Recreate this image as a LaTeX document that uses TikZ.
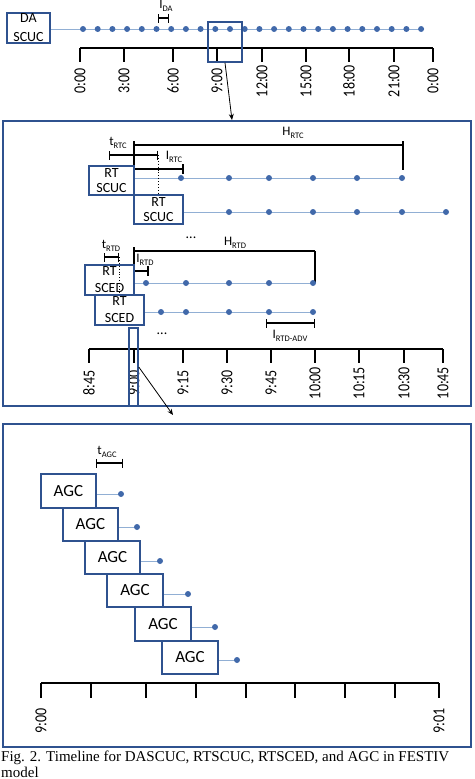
\documentclass[tikz,border=0pt]{standalone}
\usepackage{fontspec}
\usepackage{graphicx}
\setmainfont{Carlito}
\newfontfamily\capfont{Liberation Serif}
\usetikzlibrary{arrows.meta}
\definecolor{boxblue}{RGB}{47,82,143}
\definecolor{dotblue}{RGB}{65,105,170}
\definecolor{lineblue}{RGB}{145,175,212}
\pgfdeclarelayer{bg}
\pgfsetlayers{bg,main}
\newcommand\mylab[2]{{\fontsize{13}{13}\selectfont #1\raisebox{-2.5pt}{\fontsize{8.5}{8.5}\selectfont #2}}}
\newcommand\tlab[1]{\scalebox{1}[1.2]{#1}}
\begin{document}
\begin{tikzpicture}[x=1pt,y=-1pt,
  frame/.style={draw=boxblue, line width=2pt, inner sep=0pt},
  hl/.style={draw=boxblue, line width=1.5pt, inner sep=0pt},
  pbox/.style={draw=boxblue, line width=1.6pt, fill=white, inner sep=0pt, align=center, font=\fontsize{14}{16}\selectfont},
  agcbox/.style={draw=boxblue, line width=1.6pt, fill=white, inner sep=0pt, minimum width=55pt, minimum height=33pt, font=\fontsize{17}{17}\selectfont},
  dot/.style={circle, fill=dotblue, inner sep=0pt, minimum size=6pt},
  conn/.style={draw=lineblue, line width=1pt},
  brk/.style={draw=black, line width=1.2pt, {Bar[width=9pt]}-{Bar[width=9pt]}},
  tick/.style={draw=black, line width=1.2pt},
  axis/.style={draw=black, line width=1.6pt},
  tl/.style={rotate=90, inner sep=0pt, font=\fontsize{14}{14}\selectfont},
  lab/.style={inner sep=0pt},
  arr/.style={draw=black, line width=0.8pt, -{Stealth[length=6pt,width=5pt]}},
  dotted line/.style={draw=black, line width=0.9pt, dotted},
]
\useasboundingbox (0,0) rectangle (474,779);

% ---------------- top: DA SCUC ----------------
\node[pbox, minimum width=43pt, minimum height=30pt, font=\fontsize{14}{19}\selectfont] (da) at (28.5,28) {DA\\SCUC};
\foreach \i in {0,...,23} \node[dot] (da\i) at ({83+14.7*\i},29) {};
\begin{pgfonlayer}{bg}
  \draw[conn] (da.east |- da0) -- (da23.center);
\end{pgfonlayer}
\node[lab] (ida) at (166,6) {\mylab{I}{DA}};
\draw[brk] (158,18) -- (169,18);
\draw[axis] (80,48) -- (433,48);
\foreach \x/\t [count=\k] in {80/0:00,124/3:00,173/6:00,217/9:00,262/12:00,306/15:00,349/18:00,394/21:00,433/0:00}{
  \draw[axis] (\x,48) -- (\x,62);
  \node[tl] (ta\k) at (\x,81) {\tlab{\t}};
}
\node[hl, minimum width=34pt, minimum height=40pt] (zoomA) at (225,42) {};

% ---------------- middle frame ----------------
\node[frame, minimum width=468pt, minimum height=285pt] (midframe) at (237,263.5) {};
\coordinate (tipA) at (232,120);
\draw[arr] (zoomA.south) -- (tipA);

% RT SCUC
\node[lab] (hrtc) at (293,133) {\mylab{H}{RTC}};
\draw[tick] (134,145) -- (403,145);
\draw[tick] (134,141) -- (134,166);
\draw[tick] (403,141) -- (403,170);
\node[lab] (trtc) at (118,143) {\mylab{t}{RTC}};
\draw[brk] (109,155) -- (158,155);
\node[lab] (irtc) at (174,157) {\mylab{I}{RTC}};
\draw[tick] (134,169) -- (183,169);
\draw[tick] (183,164) -- (183,174);

\node[pbox, minimum width=45pt, minimum height=29pt, font=\fontsize{14}{15}\selectfont] (sc1) at (111.5,180.5) {RT\\SCUC};
\node[pbox, minimum width=49pt, minimum height=29pt, font=\fontsize{14}{15}\selectfont] (sc2) at (158.5,209.5) {RT\\SCUC};
\draw[dotted line] (158,155) -- (sc2.north -| 158,0);

\foreach \x [count=\k] in {181,229,269,313,357,402} \node[dot] (ra\k) at (\x,178) {};
\foreach \x [count=\k] in {229,269,313,357,402,446} \node[dot] (rb\k) at (\x,212) {};
\begin{pgfonlayer}{bg}
  \draw[conn] (sc1.east |- ra1) -- (ra6.center);
  \draw[conn] (sc2.east |- rb1) -- (rb6.center);
\end{pgfonlayer}
\node[lab, font=\fontsize{14}{14}\selectfont] (ell1) at (191,238) {...};

% RT SCED
\node[lab] (hrtd) at (235,243) {\mylab{H}{RTD}};
\draw[tick] (134,251) -- (315,251);
\draw[tick] (134,247) -- (134,265);
\draw[tick] (315,251) -- (315,283);
\node[lab] (trtd) at (111,246) {\mylab{t}{RTD}};
\draw[brk] (104,257) -- (119,257);
\node[lab] (irtd) at (145,260) {\mylab{I}{RTD}};
\draw[tick] (134,271) -- (148,271);
\draw[tick] (148,266) -- (148,276);

\node[pbox, minimum width=49pt, minimum height=30pt, font=\fontsize{14}{17}\selectfont] (sd1) at (109.5,280) {RT\\SCED};
\node[pbox, minimum width=49pt, minimum height=30pt, font=\fontsize{14}{17}\selectfont] (sd2) at (119.5,310) {RT\\SCED};
\draw[dotted line] (119,257) -- (sd2.north -| 119,0);

\foreach \x [count=\k] in {146,186,229,269,313} \node[dot] (rc\k) at (\x,283) {};
\foreach \x [count=\k] in {161,186,229,269,313} \node[dot] (rd\k) at (\x,312) {};
\begin{pgfonlayer}{bg}
  \draw[conn] (sd1.east |- rc1) -- (rc5.center);
  \draw[conn] (sd2.east |- rd1) -- (rd5.center);
\end{pgfonlayer}
\draw[brk] (266,323) -- (315,323);
\node[lab] (iadv) at (290,336) {\mylab{I}{RTD-ADV}};
\node[lab, font=\fontsize{14}{14}\selectfont] (ell2) at (162,334) {...};

\draw[axis] (89,349) -- (443,349);
\foreach \x/\t [count=\k] in {89/8:45,134/9:00,183/9:15,227/9:30,271/9:45,315/10:00,359/10:15,404/10:30,443/10:45}{
  \draw[axis] (\x,349) -- (\x,363);
  \node[tl] (tb\k) at (\x,383) {\tlab{\t}};
}
\node[hl, minimum width=9pt, minimum height=78pt] (zoomB) at (133.5,367) {};

% ---------------- bottom frame ----------------
\node[frame, minimum width=468pt, minimum height=323pt] (botframe) at (237,585.5) {};
\coordinate (tipB) at (173,415);
\draw[arr] (zoomB.east) -- (tipB);

\node[lab] (tagc) at (107,452) {\mylab{t}{AGC}};
\draw[brk] (96,463) -- (123,463);

\node[agcbox, minimum height=34pt] (g1) at (68.5,491) {AGC};
\node[agcbox] (g2) at (90.5,524.5) {AGC};
\node[agcbox] (g3) at (112.5,557.5) {AGC};
\node[agcbox, minimum width=56pt] (g4) at (135,590.5) {AGC};
\node[agcbox, minimum width=56pt, minimum height=34pt] (g5) at (163,624) {AGC};
\node[agcbox, minimum width=56pt, minimum height=33pt] (g6) at (190,657.5) {AGC};
\node[dot] (p1) at (121,494) {};
\node[dot] (p2) at (137,527) {};
\node[dot] (p3) at (160,561) {};
\node[dot] (p4) at (188,594) {};
\node[dot] (p5) at (215,627) {};
\node[dot] (p6) at (237,660) {};
\begin{pgfonlayer}{bg}
  \foreach \k in {1,...,6} \draw[conn] (g\k.east |- p\k) -- (p\k.center);
\end{pgfonlayer}

\draw[axis] (41,683) -- (439,683);
\foreach \x in {41,91,146,196,246,295,345,395,439} \draw[axis] (\x,683) -- (\x,698);
\node[tl] (tc1) at (41,721) {\tlab{9:00}};
\node[tl] (tc2) at (439,721) {\tlab{9:01}};

% ---------------- caption ----------------
\node[anchor=base west, inner sep=0pt, font=\capfont\fontsize{15}{15}\selectfont] (cap1) at (1,761) {Fig. 2. Timeline for DASCUC, RTSCUC, RTSCED, and AGC in FESTIV};
\node[anchor=base west, inner sep=0pt, font=\capfont\fontsize{15}{15}\selectfont] (cap2) at (1,777) {model};
\end{tikzpicture}
\end{document}
